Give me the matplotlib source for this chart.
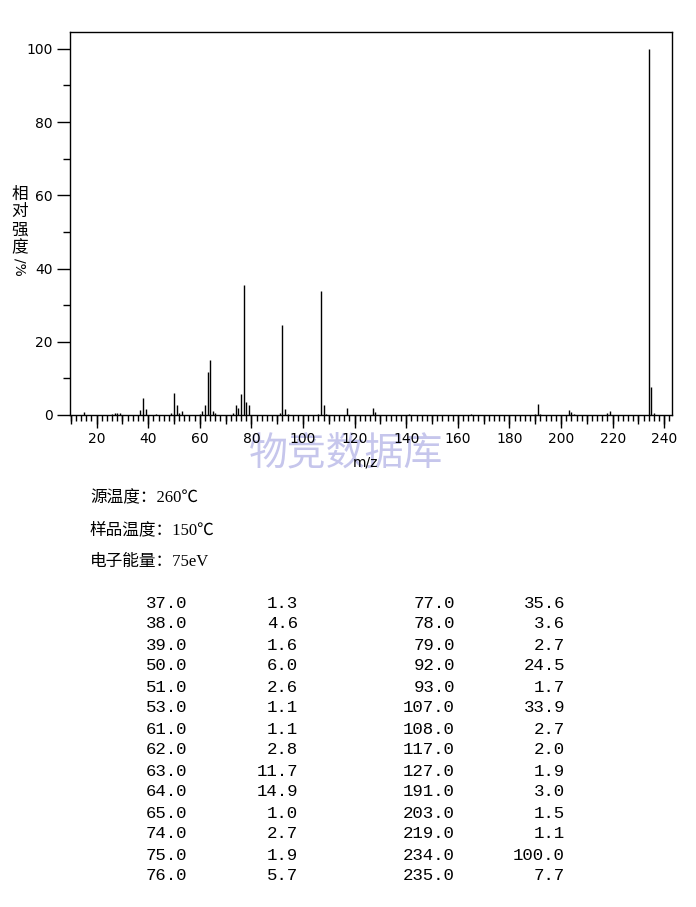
import numpy as np
import matplotlib
matplotlib.use('Agg')
import matplotlib.pyplot as plt
from matplotlib.ticker import MultipleLocator, NullFormatter

# peaks listed in the table (m/z, relative intensity %)
table_mz = [37, 38, 39, 50, 51, 53, 61, 62, 63, 64, 65, 74, 75, 76,
            77, 78, 79, 92, 93, 107, 108, 117, 127, 191, 203, 219, 234, 235]
table_int = [1.3, 4.6, 1.6, 6.0, 2.6, 1.1, 1.1, 2.8, 11.7, 14.9, 1.0, 2.7, 1.9, 5.7,
             35.6, 3.6, 2.7, 24.5, 1.7, 33.9, 2.7, 2.0, 1.9, 3.0, 1.5, 1.1, 100.0, 7.7]

# small peaks (< 1 %) only seen in the plot
minor_mz = [15, 26, 27, 28, 29, 43, 49, 52, 60, 66, 73, 91, 94, 106, 109,
            128, 141, 165, 190, 192, 204, 205, 218, 236]
minor_int = [0.7, 0.4, 0.6, 0.6, 0.5, 0.3, 0.5, 0.5, 0.3, 0.5, 0.6, 0.6, 0.3, 0.4, 0.3,
             0.8, 0.2, 0.3, 0.4, 0.3, 0.8, 0.3, 0.6, 0.6]

info_lines = ['源温度：260℃', '样品温度：150℃', '电子能量：75eV']

W, H = 696, 907
fig = plt.figure(figsize=(W / 100, H / 100), dpi=100)
ax = fig.add_axes([70 / W, 1 - 415 / H, 602 / W, 383 / H])

ax.vlines(table_mz + minor_mz, 0, table_int + minor_int, color='black', lw=1)
ax.set_xlim(9.7, 243)
ax.set_ylim(0, 104.6)

for s in ax.spines.values():
    s.set_linewidth(1)
ax.xaxis.set_major_locator(MultipleLocator(20))
ax.xaxis.set_minor_locator(MultipleLocator(2))
ax.yaxis.set_major_locator(MultipleLocator(20))
ax.yaxis.set_minor_locator(MultipleLocator(10))
ax.tick_params(which='major', length=9.5, width=1, labelsize=10, pad=3)
ax.tick_params(axis='x', which='minor', length=4.5, width=1)
ax.tick_params(axis='y', which='minor', length=5, width=1)

# medium ticks every 10 on the m/z axis
sec = ax.secondary_xaxis('bottom')
sec.xaxis.set_major_locator(MultipleLocator(10))
sec.xaxis.set_major_formatter(NullFormatter())
sec.tick_params(length=6.5, width=1)
sec.spines['bottom'].set_visible(False)

# y label, stacked characters
fig.text(20 / W, 1 - 221 / H, '相\n对\n强\n度', fontsize=12, family=['Noto Sans CJK SC', 'DejaVu Sans'],
         ha='center', va='center', linespacing=1.08)
fig.text(20 / W, 1 - 267 / H, '/%', fontsize=10, rotation=-90, ha='center', va='center')

# watermark
fig.text(346 / W, 1 - 455 / H, '物竞数据库', fontsize=28, color='#c6c6ec',
         family=['Noto Sans CJK SC'], ha='center', va='center', zorder=-1)
fig.text(365 / W, 1 - 462 / H, 'm/z', fontsize=10, ha='center', va='center')

# experiment conditions
for i, line in enumerate(info_lines):
    fig.text(90 / W, 1 - (498 + 32 * i) / H, line, fontsize=12,
             family=['Liberation Serif', 'Noto Sans CJK SC'], ha='left', va='center')

# peak table
col_x = [187, 298, 455, 565]
n = 14
for i in range(n):
    y = 1 - (603 + 21 * i) / H
    row = [table_mz[i], table_int[i], table_mz[i + n], table_int[i + n]]
    for x, v in zip(col_x, row):
        fig.text(x / W, y, f'{v:.1f}', fontsize=12.5, family='Liberation Mono',
                 ha='right', va='center')

fig.savefig('out.png', dpi=100)
plt.close()
